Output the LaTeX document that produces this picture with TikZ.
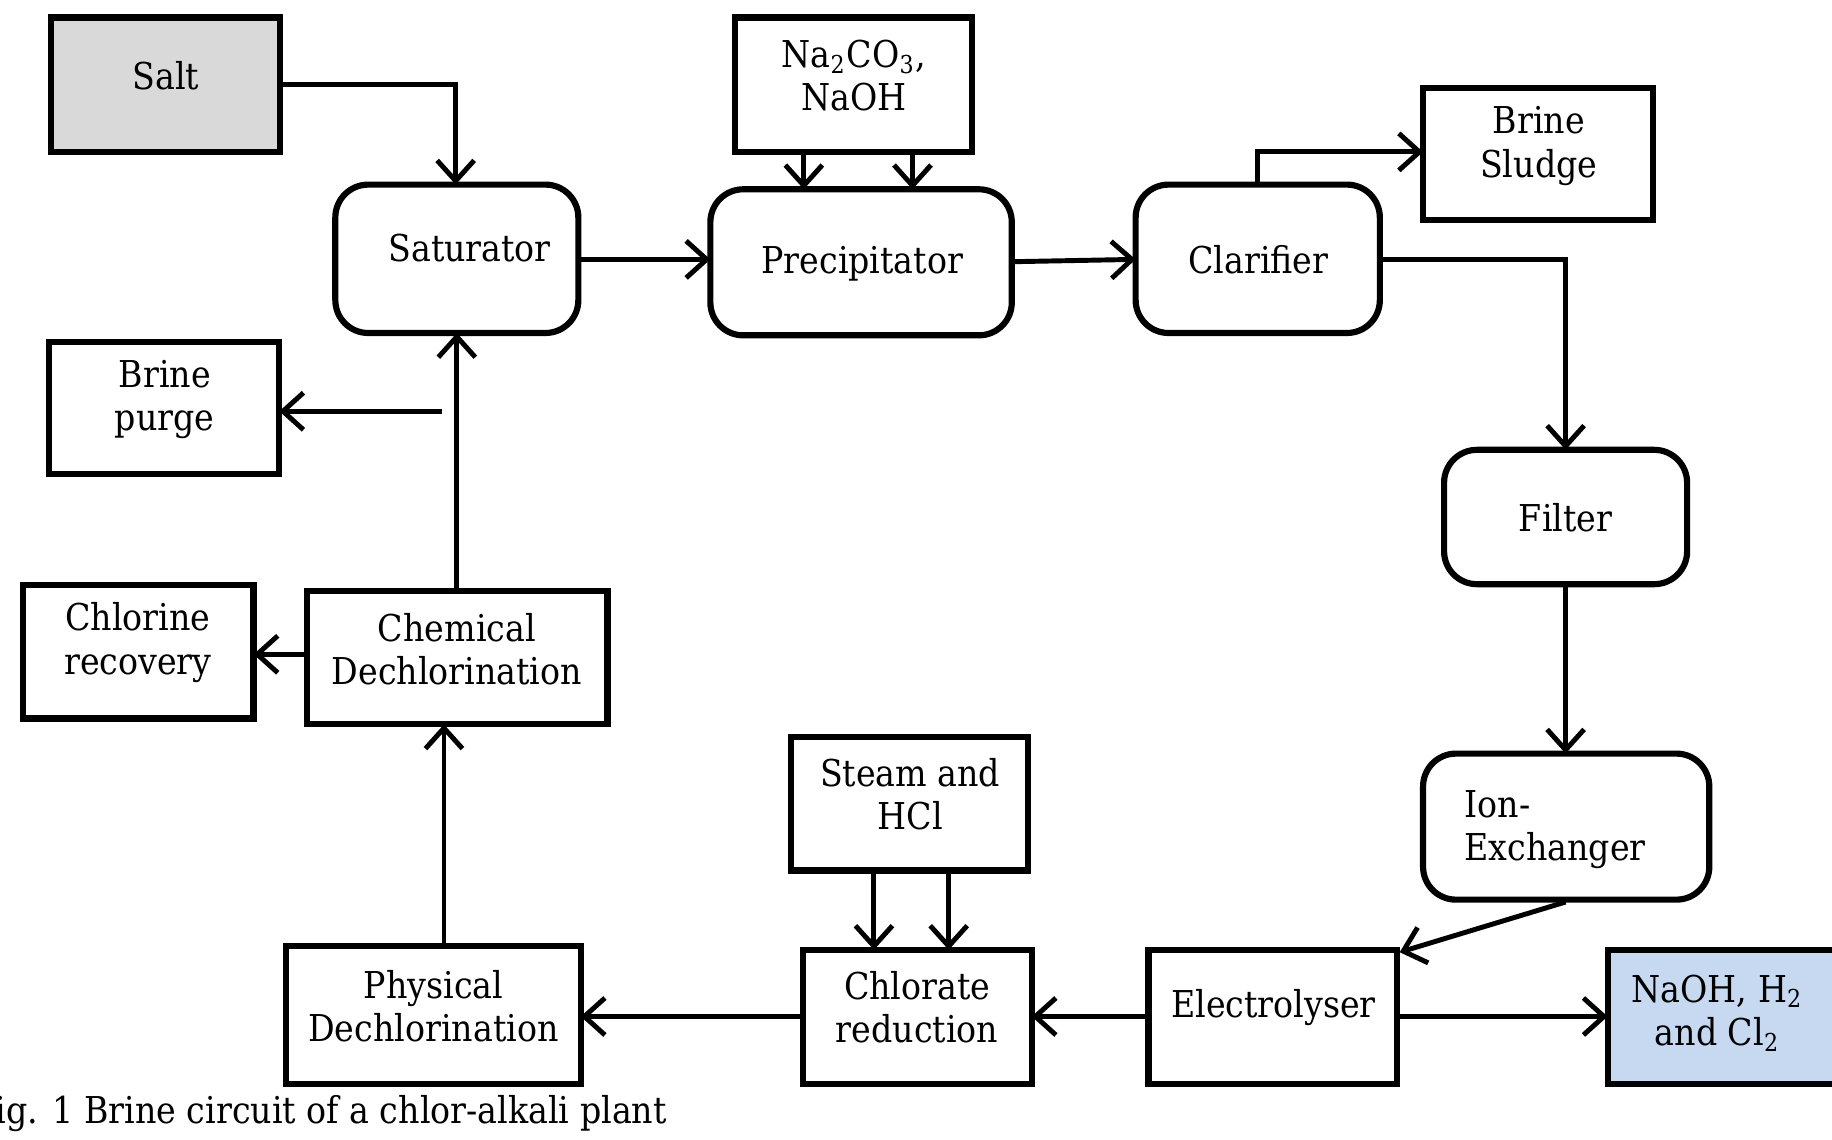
\documentclass[tikz,border=0pt]{standalone}
\usepackage{fontspec}
\setmainfont{DejaVu Serif Condensed}
\usetikzlibrary{arrows.meta}
\definecolor{gbox}{HTML}{D9D9D9}
\definecolor{bbox}{HTML}{C6D9F1}
\begin{document}
\begin{tikzpicture}[x=0.01cm,y=-0.01cm,
  every node/.style={font=\fontsize{9}{10.5}\selectfont,align=center},
  bx/.style={line width=1.5pt},
  rb/.style={line width=1.5pt,rounded corners=8pt},
  ar/.style={line width=1.2pt,-{Straight Barb[length=5pt,width=9pt,line width=1.2pt]}}]
\useasboundingbox (0,0) rectangle (1568,975);
% boxes
\draw[bx,fill=gbox] (44,15) rectangle (240,130); \node (salt) at (142,65) {Salt};
\draw[rb] (287,158) rectangle (495,285); \node (sat) at (402,212) {Saturator};
\draw[bx] (629,15) rectangle (832,130); \node (na) at (731,65) {Na\textsubscript{2}CO\textsubscript{3},\\NaOH};
\draw[rb] (608,162) rectangle (866,287); \node (pre) at (738,226) {Precipitator};
\draw[rb] (972,158) rectangle (1181,285); \node (cla) at (1077,222) {Clarifier};
\draw[bx] (1218,75) rectangle (1415,188); \node (sl) at (1317,125) {Brine\\Sludge};
\draw[rb] (1236,385) rectangle (1444,500); \node (fil) at (1340,443) {Filter};
\draw[rb] (1218,645) rectangle (1463,770); \node[align=left] (ion) at (1331,710) {Ion-\\Exchanger};
\draw[bx] (983,813) rectangle (1196,928); \node (ele) at (1090,862) {Electrolyser};
\draw[bx,fill=bbox] (1376,813) rectangle (1580,928); \node (out) at (1470,867) {NaOH, H\textsubscript{2}\\and Cl\textsubscript{2}};
\draw[bx] (687,813) rectangle (883,928); \node (chl) at (785,862) {Chlorate\\reduction};
\draw[bx] (677,631) rectangle (880,745); \node (st) at (779,680) {Steam and\\HCl};
\draw[bx] (245,810) rectangle (497,928); \node (phy) at (371,861) {Physical\\Dechlorination};
\draw[bx] (263,506) rectangle (520,620); \node (che) at (391,556) {Chemical\\Dechlorination};
\draw[bx] (20,501) rectangle (217,615); \node (cr) at (118,550) {Chlorine\\recovery};
\draw[bx] (42,293) rectangle (239,406); \node (bp) at (141,342) {Brine\\purge};
\node[anchor=base west,inner sep=0] (cap) at (-24,962) {Fig. 1 Brine circuit of a chlor-alkali plant};
% connectors
\draw[ar] (240,72) -| (390,158);
\draw[ar] (495,222) -- (608,222);
\draw[ar] (688,130) -- (688,162);
\draw[ar] (781,130) -- (781,162);
\draw[ar] (866,224) -- (972,222);
\draw[ar] (1076,158) |- (1218,130);
\draw[ar] (1181,222) -| (1340,385);
\draw[ar] (1340,500) -- (1340,645);
\draw[ar] (1340,772) -- (1198,815);
\draw[ar] (1196,870) -- (1376,870);
\draw[ar] (983,870) -- (883,870);
\draw[ar] (748,745) -- (748,813);
\draw[ar] (812,745) -- (812,813);
\draw[ar] (687,870) -- (497,870);
\draw[ar] (380,810) -- (380,620);
\draw[ar] (391,506) -- (391,285);
\coordinate (p) at (378,352);
\draw[ar] (p) -- (239,352);
\draw[ar] (263,560) -- (217,560);
\end{tikzpicture}
\end{document}
